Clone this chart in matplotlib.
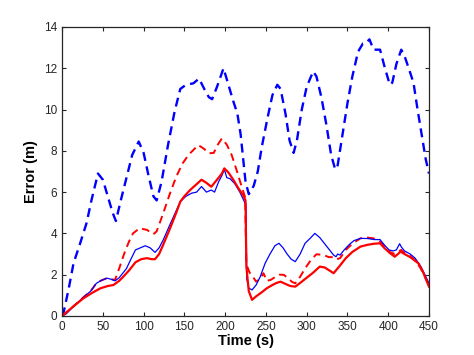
import matplotlib
matplotlib.use("Agg")
import matplotlib.pyplot as plt

# blue dashed
t_bd = [0, 2, 8, 14, 22, 30, 36, 44, 50, 56, 62, 66, 72, 79, 86, 94, 100, 106, 112, 116,
        122, 130, 138, 145, 152, 161, 168, 175, 180, 184, 190, 198, 204, 210, 215, 219,
        225, 229, 235, 240, 245, 252, 258, 264, 268, 274, 279, 284, 288, 294, 300, 308,
        312, 318, 324, 330, 335, 338, 344, 350, 356, 363, 369, 372, 377, 382, 390, 396,
        402, 405, 410, 416, 420, 426, 431, 436, 441, 446, 450]
e_bd = [0, 0.2, 1.3, 2.55, 3.5, 4.5, 5.6, 6.9, 6.6, 5.8, 5.0, 4.6, 5.6, 6.7, 7.8, 8.45, 7.9, 6.8, 5.8, 5.6,
        6.5, 8.3, 9.9, 11.0, 11.2, 11.27, 11.5, 10.95, 10.6, 10.5, 11.1, 12.0, 11.2, 10.4, 9.8, 8.8,
        6.5, 5.9, 6.3, 7.0, 8.2, 9.6, 10.7, 11.2, 11.0, 9.8, 8.5, 7.9, 8.5, 10.0, 11.1, 11.85,
        11.6, 10.6, 9.3, 7.8, 7.1, 7.3, 8.8, 10.3, 11.6, 12.8, 13.2, 13.2, 13.4, 12.9, 12.9, 12.0,
        11.2, 11.3, 12.2, 12.9, 12.6, 11.9, 11.3, 10.0, 8.8, 7.6, 6.9]

# red solid
t_rs = [0, 6, 15, 26, 36, 47, 56, 63, 70, 75, 82, 90, 97, 104, 110, 114, 119, 124, 132, 140,
        145, 150, 157, 164, 171, 177, 183, 190, 196, 199, 204, 210, 216, 222, 225, 226, 229,
        233, 238, 245, 251, 258, 263, 268, 274, 280, 286, 292, 300, 308, 316, 322, 328, 333,
        340, 348, 356, 366, 375, 383, 390, 395, 402, 408, 412, 415, 420, 427, 437, 443, 450]
e_rs = [0, 0.2, 0.5, 0.85, 1.1, 1.34, 1.45, 1.5, 1.7, 1.9, 2.2, 2.6, 2.75, 2.8, 2.75, 2.75, 3.0, 3.45, 4.2, 5.0,
        5.54, 5.8, 6.1, 6.35, 6.6, 6.45, 6.26, 6.6, 6.9, 7.15, 6.95, 6.6, 6.2, 5.85, 5.6, 2.4, 1.2,
        0.78, 0.95, 1.15, 1.34, 1.5, 1.6, 1.66, 1.55, 1.45, 1.42, 1.6, 1.85, 2.1, 2.39, 2.35, 2.2, 2.07,
        2.4, 2.8, 3.1, 3.36, 3.45, 3.5, 3.52, 3.3, 3.05, 2.87, 3.0, 3.12, 3.0, 2.85, 2.55, 2.1, 1.42]

# blue solid
t_bs = [0, 5, 15, 26, 35, 42, 48, 55, 60, 65, 70, 79, 85, 90, 96, 102, 108, 114, 119, 124,
        132, 140, 145, 152, 159, 165, 171, 177, 183, 187, 192, 196, 199, 202, 206, 212, 218,
        224, 225.5, 226.5, 229, 233, 238, 243, 249, 255, 261, 266, 271, 276, 281, 286, 292,
        298, 304, 310, 316, 322, 328, 333, 336, 338, 341, 346, 352, 358, 366, 375, 383, 390,
        395, 401, 406, 410, 414, 416, 420, 427, 433, 440, 445, 450]
e_bs = [0, 0.1, 0.5, 0.9, 1.2, 1.58, 1.72, 1.83, 1.78, 1.7, 1.85, 2.3, 2.8, 3.2, 3.3, 3.4, 3.3, 3.08, 3.3, 3.68,
        4.4, 5.1, 5.54, 5.8, 5.95, 6.0, 6.27, 6.0, 6.1, 6.0, 6.5, 6.8, 7.1, 6.7, 6.65, 6.4, 6.0,
        5.5, 5.4, 1.8, 1.35, 1.26, 1.5, 1.9, 2.55, 3.0, 3.4, 3.52, 3.3, 3.0, 2.75, 2.63, 3.0,
        3.52, 3.75, 4.0, 3.8, 3.5, 3.2, 2.95, 2.87, 3.0, 2.95, 3.2, 3.45, 3.65, 3.76, 3.75, 3.7, 3.7,
        3.45, 3.2, 3.15, 3.2, 3.5, 3.35, 3.15, 3.0, 2.8, 2.4, 2.0, 1.58]

# red dashed
t_rd = [0, 15, 26, 35, 42, 48, 55, 60, 65, 70, 76, 82, 87, 95, 104, 112, 116, 124, 132, 140,
        148, 155, 160, 167, 174, 180, 186, 191, 196, 202, 208, 214, 220, 224.5, 226, 230, 234,
        238, 243, 247, 251, 256, 262, 267, 272, 278, 282, 286, 292, 298, 305, 312, 321, 327,
        333, 337, 341, 348, 356, 366, 374, 382, 390, 395, 402, 408, 412, 416, 420, 427, 433,
        440, 445, 450]
e_rd = [0, 0.5, 0.9, 1.2, 1.58, 1.72, 1.83, 1.78, 1.75, 2.3, 3.0, 3.6, 4.0, 4.25, 4.17, 3.96, 4.1, 4.97, 5.9, 6.75,
        7.4, 7.8, 8.0, 8.28, 8.1, 7.88, 7.9, 8.3, 8.6, 8.3, 7.8, 7.07, 6.3, 5.75, 2.5, 2.1, 1.9,
        1.66, 1.8, 2.07, 1.7, 1.75, 1.9, 2.0, 1.99, 1.8, 1.65, 1.58, 1.9, 2.3, 2.7, 2.99, 2.95, 2.85,
        2.85, 2.75, 2.8, 3.2, 3.5, 3.76, 3.8, 3.76, 3.6, 3.4, 3.1, 3.0, 3.1, 3.2, 3.05, 2.9, 2.7,
        2.3, 1.9, 1.5]

plt.rcParams['font.family'] = ['Liberation Sans', 'DejaVu Sans']

fig = plt.figure(figsize=(4.74, 3.55), dpi=100)
ax = fig.add_axes([0.131, 0.110, 0.774, 0.814])

ax.plot(t_bd, e_bd, color='#0000ff', lw=1.7, linestyle=(0, (3.8, 2.4)))
ax.plot(t_rd, e_rd, color='#ff0000', lw=1.4, linestyle=(0, (4.0, 2.6)))
ax.plot(t_bs, e_bs, color='#0000ff', lw=0.9)
ax.plot(t_rs, e_rs, color='#ff0000', lw=1.6)

ax.set_xlim(0, 450)
ax.set_ylim(0, 14)
ax.set_xticks(range(0, 451, 50))
ax.set_yticks(range(0, 15, 2))
ax.tick_params(direction='in', top=True, right=True, labelsize=8.5, length=3, width=0.8, colors='#262626')
for s in ax.spines.values():
    s.set_color('#262626')
    s.set_linewidth(0.9)
ax.set_xlabel('Time (s)', fontsize=10.5, fontweight='bold', labelpad=1)
ax.set_ylabel('Error (m)', fontsize=10.5, fontweight='bold', labelpad=4)

fig.savefig('out.png', dpi=100)
